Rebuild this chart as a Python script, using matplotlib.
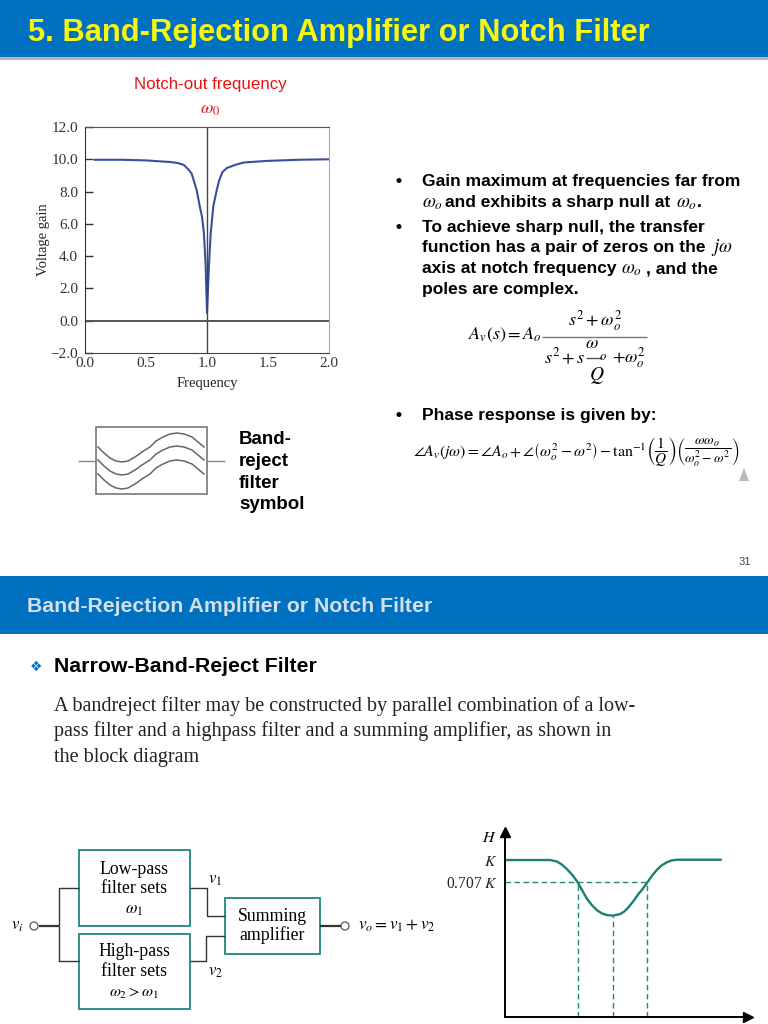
import matplotlib
matplotlib.use("Agg")
import matplotlib.pyplot as plt
from matplotlib.patches import Rectangle, Polygon, Circle

plt.rcParams['font.family'] = ['Liberation Sans', 'DejaVu Sans']
plt.rcParams['mathtext.fontset'] = 'stix'

W, H = 768, 1024
BLUE = '#0070c0'
TEAL = '#2f8f88'
SERIF = 'Liberation Serif'

# notch response, top slide
notch_freq = [0.08, 0.30, 0.50, 0.70, 0.76, 0.81, 0.85, 0.875, 0.915, 0.943, 0.96, 0.975, 0.989, 1.0,
              1.016, 1.03, 1.052, 1.08, 1.10, 1.126, 1.16, 1.23, 1.30, 1.49, 1.75, 2.0]
notch_gain = [9.97, 9.97, 9.93, 9.83, 9.77, 9.65, 9.35, 9.10, 8.10, 7.00, 6.40, 5.40, 3.40, 0.48,
              3.40, 5.40, 7.10, 8.10, 8.70, 9.20, 9.45, 9.65, 9.80, 9.90, 9.97, 10.0]
gain_ticks = [-2, 0, 2, 4, 6, 8, 10, 12]
gain_labels = ['\u22122.0', '0.0', '2.0', '4.0', '6.0', '8.0', '10.0', '12.0']
freq_ticks = [0, 0.5, 1.0, 1.5, 2.0]
freq_labels = ['0.0', '0.5', '1.0', '1.5', '2.0']

# narrow band reject response, bottom slide (f/f0, H/K as drawn)
band_freq = [0, 0.42, 0.483, 0.529, 0.575, 0.628, 0.677, 0.72, 0.76, 0.806, 0.852, 0.898, 0.945, 1.0,
             1.068, 1.108, 1.145, 1.191, 1.237, 1.283, 1.32, 1.363, 1.406, 1.452, 1.498, 1.545, 1.591, 1.997]
band_h = [1.0, 1.0, 0.991, 0.972, 0.943, 0.904, 0.857, 0.804, 0.755, 0.713, 0.681, 0.66, 0.649, 0.645,
          0.655, 0.672, 0.698, 0.738, 0.783, 0.821, 0.857, 0.90, 0.936, 0.966, 0.985, 0.998, 1.002, 1.002]
level_k = 1.0
level_707 = 0.857
cut_freqs = [0.677, 1.32]
cut_centre = 1.0
centre_h = 0.645

# wave of the filter symbol, pixels
wave_x = [98, 104, 110, 116, 122, 128, 135, 142, 150, 156, 163, 170, 177, 184, 192, 198, 204]
wave_y = [447, 453, 458, 461, 462, 461, 457, 452, 447, 441, 437, 434, 433, 434, 437, 442, 447]


def pixel_axes(x0, y_top, x1, y_bot):
    return fig.add_axes([x0 / W, 1 - y_bot / H, (x1 - x0) / W, (y_bot - y_top) / H])


fig = plt.figure(figsize=(W / 100, H / 100), dpi=100)
bg = fig.add_axes([0, 0, 1, 1])
bg.set_xlim(0, W)
bg.set_ylim(H, 0)
bg.axis('off')


def txt(x, y, s, size=11, ha='left', color='black', weight='normal', family=None, va='center', **kw):
    if family is not None:
        kw['family'] = family
    bg.text(x, y, s, fontsize=size, ha=ha, va=va, color=color, weight=weight, **kw)


def bold(x, y, s):
    txt(x, y, s, size=b, weight='bold', va='baseline')


def omega(x, y, s=r'$\omega_o$'):
    txt(x, y, s, size=b + 1, va='baseline')


def line(xs, ys, color='#333333', lw=1.0, **kw):
    bg.plot(xs, ys, color=color, lw=lw, solid_capstyle='butt', **kw)


# slide bars
bg.add_patch(Rectangle((0, 0), W, 57, color=BLUE, lw=0))
bg.add_patch(Rectangle((0, 57), W, 3, color='#b5b5b5', lw=0))
bg.add_patch(Rectangle((0, 576), W, 58, color=BLUE, lw=0))
txt(28, 33, '5. Band-Rejection Amplifier or Notch Filter', size=22.2, color='#f7f711', weight='bold')
txt(27, 606, 'Band-Rejection Amplifier or Notch Filter', size=15.3, color='#d5dfea', weight='bold')
txt(751, 562, '31', size=8, ha='right', color='#444444')

# red labels
txt(210, 84, 'Notch-out frequency', size=12.2, ha='center', color='#ee1111')
txt(210, 109, r'$\omega_0$', size=13, ha='center', color='#ee1111')

# bullets, top slide
b = 12.5
for y in [186, 232, 420]:
    bold(396, y, '\u2022')
bold(422, 186, 'Gain maximum at frequencies far from')
omega(422, 207)
bold(445, 207, 'and exhibits a sharp null at')
omega(676, 207)
bold(697, 207, '.')
bold(422, 232, 'To achieve sharp null, the transfer')
bold(422, 252, 'function has a pair of zeros on the')
omega(711, 252, r'$j\omega$')
bold(422, 273, 'axis at notch frequency')
omega(621, 273)
bold(646, 273, ', and the')
bold(422, 294, 'poles are complex.')
bold(422, 420, 'Phase response is given by:')

# gain formula
txt(468, 335, r'$A_v(s)=A_o$', size=13)
txt(595, 321, r'$s^2+\omega_o^2$', size=13, ha='center')
line([542, 647], [337, 337], color='#777777', lw=1)
txt(544, 358, r'$s^2+s$', size=13)
txt(592, 343, r'$\omega$', size=13, ha='center')
txt(603, 354, r'$_o$', size=13, ha='center')
line([586, 602], [358, 358], color='#555555', lw=1)
txt(612, 358, r'$+\omega_o^2$', size=13)
txt(597, 376, r'$Q$', size=14, ha='center')

# phase formula
txt(413, 452, r'$\angle A_v(j\omega)=\angle A_o+\angle\left(\omega_o^2-\omega^2\right)-\mathrm{tan}^{-1}$', size=11.4)
txt(646, 452, r'$\left(\dfrac{1}{Q}\right)$', size=11)
txt(676, 452, r'$\left(\dfrac{\omega\omega_o}{\omega_o^2-\omega^2}\right)$', size=10)
bg.add_patch(Polygon([[739, 481], [749, 481], [744, 468]], color='#b8b8b8', lw=0))

# filter symbol
bg.add_patch(Rectangle((96, 427), 111, 67, fc='none', ec='#777777', lw=1.2))
line([78, 96], [461, 461], color='#888888', lw=1)
line([207, 225], [461, 461], color='#888888', lw=1)
for off in [0, 13, 27]:
    bg.plot(wave_x, [y + off for y in wave_y], color='#666666', lw=1.1)
for y, s in zip([444, 466, 488, 509], ['Band-', 'reject', 'filter', 'symbol']):
    txt(239, y, s, size=13.5, weight='bold', va='baseline')

# bottom slide text
txt(30, 667, '\u2756', size=10, color=BLUE, family='DejaVu Sans')
txt(54, 667, 'Narrow-Band-Reject Filter', size=15.3, weight='bold')
para = ['A bandreject filter may be constructed by parallel combination of a low-',
        'pass filter and a highpass filter and a summing amplifier, as shown in',
        'the block diagram']
for y, s in zip([711, 736, 762], para):
    txt(54, y, s, size=14.5, family=SERIF, color='#222222', va='baseline')

# block diagram
for x, y, w, h in [(79, 850, 111, 76), (79, 934, 111, 75), (225, 898, 95, 56)]:
    bg.add_patch(Rectangle((x, y), w, h, fc='white', ec=TEAL, lw=1.4))
line([39, 59], [926, 926], lw=1.6)
line([59, 59, 79], [926, 888, 888])
line([59, 59, 79], [926, 961, 961])
line([190, 207, 207, 225], [888, 888, 916, 916])
line([190, 206, 206, 225], [961, 961, 936, 936])
line([320, 341], [926, 926], lw=1.6)
for x in [34, 345]:
    bg.add_patch(Circle((x, 926), 4, fc='white', ec='#666666', lw=1))
st = 12.8
for y, s in zip([874, 893], ['Low-pass', 'filter sets']):
    txt(134, y, s, size=st, ha='center', family=SERIF, va='baseline')
txt(134, 910, r'$\omega_1$', size=12, ha='center')
for y, s in zip([956, 976], ['High-pass', 'filter sets']):
    txt(134, y, s, size=st, ha='center', family=SERIF, va='baseline')
txt(134, 993, r'$\omega_2 > \omega_1$', size=11.5, ha='center')
for y, s in zip([921, 940], ['Summing', 'amplifier']):
    txt(272, y, s, size=st, ha='center', family=SERIF, va='baseline')
txt(17, 926, r'$v_i$', size=12, ha='center')
txt(215, 880, r'$v_1$', size=12, ha='center')
txt(215, 973, r'$v_2$', size=12, ha='center')
txt(358, 926, r'$v_o = v_1 + v_2$', size=12.3)

# notch chart
ax = pixel_axes(85, 127, 329, 353)
ax.plot(notch_freq, notch_gain, color='#3a4f9c', lw=1.5)
ax.axvline(1.0, color='#444444', lw=1)
ax.axhline(0, color='#555555', lw=1.4)
ax.set_xlim(0, 2)
ax.set_ylim(-2, 12)
ax.set_xticks(freq_ticks, freq_labels, family=SERIF, fontsize=11, color='#333333')
ax.set_yticks(gain_ticks, gain_labels, family=SERIF, fontsize=11, color='#333333')
ax.tick_params(axis='x', length=0, pad=3)
ax.tick_params(axis='y', direction='in', length=6, width=1, pad=5, color='#333333')
ax.set_xlabel('Frequency', family=SERIF, fontsize=10.5, color='#222222', labelpad=5)
ax.set_ylabel('Voltage gain', family=SERIF, fontsize=10.5, color='#222222', labelpad=0)
ax.spines['left'].set_color('#333333')
ax.spines['top'].set_color('#555555')
ax.spines['bottom'].set_color('#444444')
ax.spines['right'].set_color('#aaaaaa')

# band reject chart
ax2 = pixel_axes(504.5, 832, 748, 1016.7)
ax2.patch.set_alpha(0)
ax2.set_xlim(0, 2.25)
ax2.set_ylim(0, 1.179)
for x in cut_freqs:
    ax2.plot([x, x], [0, level_707], color='#1f8a78', lw=1, ls=(0, (4, 2.5)))
ax2.plot([cut_centre, cut_centre], [0, centre_h], color='#1f8a78', lw=1, ls=(0, (4, 2.5)))
ax2.plot([0, max(cut_freqs)], [level_707, level_707], color='#1f8a78', lw=1, ls=(0, (4, 2.5)))
ax2.plot(band_freq, band_h, color='#1a8070', lw=1.7)
ax2.set_xticks([])
ax2.set_yticks([level_707, level_k], ['0.707 $K$', '$K$'], fontsize=11.2, color='#222222')
for t in ax2.get_yticklabels():
    t.set_family(SERIF)
ax2.tick_params(axis='y', length=0, pad=5)
ax2.spines['top'].set_visible(False)
ax2.spines['right'].set_visible(False)
ax2.spines['left'].set_linewidth(1.4)
ax2.spines['bottom'].set_linewidth(1.4)
ax2.plot(1, 0, '>k', transform=ax2.transAxes, clip_on=False, ms=7)
ax2.plot(0, 1, '^k', transform=ax2.transAxes, clip_on=False, ms=7)
txt(489, 837, r'$H$', size=11.5, ha='center')

fig.savefig('out.png', dpi=100)
